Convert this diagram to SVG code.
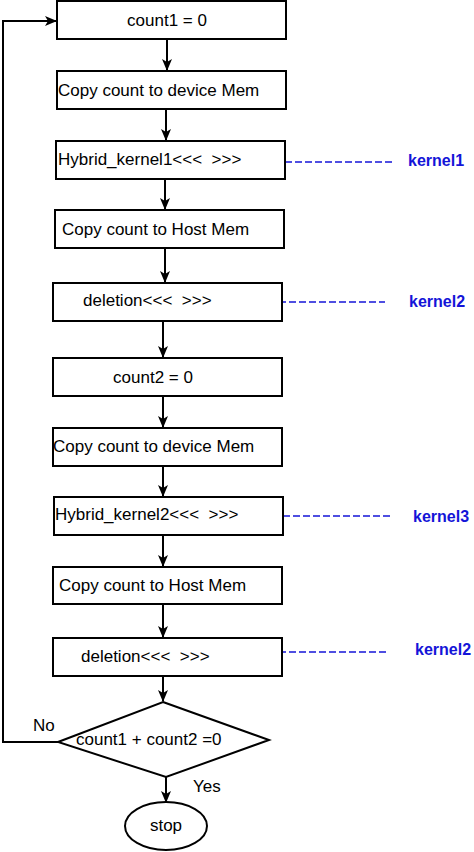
<svg xmlns="http://www.w3.org/2000/svg" width="474" height="852" viewBox="0 0 474 852">
<defs>
<style>
.b{fill:#fff;stroke:#000;stroke-width:2}
.t{font-family:"Liberation Sans",Arial,sans-serif;font-size:17px;fill:#000}
.k{font-family:"Liberation Sans",Arial,sans-serif;font-size:16px;font-weight:bold;fill:#1414d8}
.d{stroke:#1414d8;stroke-width:1.5;stroke-dasharray:7 3;fill:none}
.c{stroke:#000;stroke-width:2;fill:none}
</style>
<marker id="ar" viewBox="0 0 12 10" refX="11" refY="5" markerWidth="12" markerHeight="10" markerUnits="userSpaceOnUse" orient="auto">
<path d="M0,0 L12,5 L0,10 L3,5 Z" fill="#000"/>
</marker>
</defs>
<rect width="474" height="852" fill="#fff"/>
<g id="connectors">
<line class="c" x1="167" y1="39" x2="167" y2="70" marker-end="url(#ar)"/>
<line class="c" x1="166" y1="109" x2="166" y2="140" marker-end="url(#ar)"/>
<line class="c" x1="165" y1="179" x2="165" y2="209" marker-end="url(#ar)"/>
<line class="c" x1="165" y1="248" x2="165" y2="282" marker-end="url(#ar)"/>
<line class="c" x1="163" y1="321" x2="163" y2="357" marker-end="url(#ar)"/>
<line class="c" x1="163" y1="396" x2="163" y2="427" marker-end="url(#ar)"/>
<line class="c" x1="163" y1="466" x2="163" y2="496" marker-end="url(#ar)"/>
<line class="c" x1="163" y1="535" x2="163" y2="566" marker-end="url(#ar)"/>
<line class="c" x1="163" y1="604" x2="163" y2="637" marker-end="url(#ar)"/>
<line class="c" x1="163" y1="676" x2="163" y2="701" marker-end="url(#ar)"/>
<line class="c" x1="166" y1="777" x2="166" y2="802" marker-end="url(#ar)"/>
<polyline class="c" points="58,742 3,742 3,21 56,21" marker-end="url(#ar)"/>
<line class="d" x1="285" y1="162" x2="392" y2="162"/>
<line class="d" x1="279" y1="302" x2="385" y2="302"/>
<line class="d" x1="283" y1="516" x2="390" y2="516"/>
<line class="d" x1="279" y1="652" x2="387" y2="652"/>
<text class="t" x="33" y="731">No</text>
<text class="t" x="193" y="792">Yes</text>
</g>
<g id="n1"><rect class="b" x="57" y="1" width="229" height="38"/><text class="t" x="167" y="26" text-anchor="middle">count1 = 0</text></g>
<g id="n2"><rect class="b" x="57" y="71" width="229" height="38"/><text class="t" x="58" y="96">Copy count to device Mem</text></g>
<g id="n3"><rect class="b" x="56" y="141" width="229" height="38"/><text class="t" x="58" y="165" xml:space="preserve">Hybrid_kernel1&lt;&lt;&lt;  &gt;&gt;&gt;</text></g>
<g id="n4"><rect class="b" x="55" y="210" width="229" height="38"/><text class="t" x="62" y="235">Copy count to Host Mem</text></g>
<g id="n5"><rect class="b" x="53" y="283" width="229" height="38"/><text class="t" x="83" y="306" xml:space="preserve">deletion&lt;&lt;&lt;  &gt;&gt;&gt;</text></g>
<g id="n6"><rect class="b" x="53" y="358" width="229" height="38"/><text class="t" x="153" y="383" text-anchor="middle">count2 = 0</text></g>
<g id="n7"><rect class="b" x="53" y="428" width="229" height="38"/><text class="t" x="53" y="452">Copy count to device Mem</text></g>
<g id="n8"><rect class="b" x="54" y="497" width="229" height="38"/><text class="t" x="55" y="520" xml:space="preserve">Hybrid_kernel2&lt;&lt;&lt;  &gt;&gt;&gt;</text></g>
<g id="n9"><rect class="b" x="53" y="567" width="229" height="37"/><text class="t" x="59" y="591">Copy count to Host Mem</text></g>
<g id="n10"><rect class="b" x="53" y="638" width="229" height="38"/><text class="t" x="81" y="662" xml:space="preserve">deletion&lt;&lt;&lt;  &gt;&gt;&gt;</text></g>
<g id="n11"><polygon class="b" points="163,702 269,740 166,777 58,742"/><text class="t" x="76" y="745">count1 + count2 =0</text></g>
<g id="n12"><ellipse class="b" cx="166" cy="826" rx="41" ry="24"/><text class="t" x="166" y="831" text-anchor="middle">stop</text></g>
<g id="k1"><text class="k" x="408" y="166">kernel1</text></g>
<g id="k2"><text class="k" x="409" y="307">kernel2</text></g>
<g id="k3"><text class="k" x="413" y="522">kernel3</text></g>
<g id="k4"><text class="k" x="415" y="655">kernel2</text></g>
</svg>
